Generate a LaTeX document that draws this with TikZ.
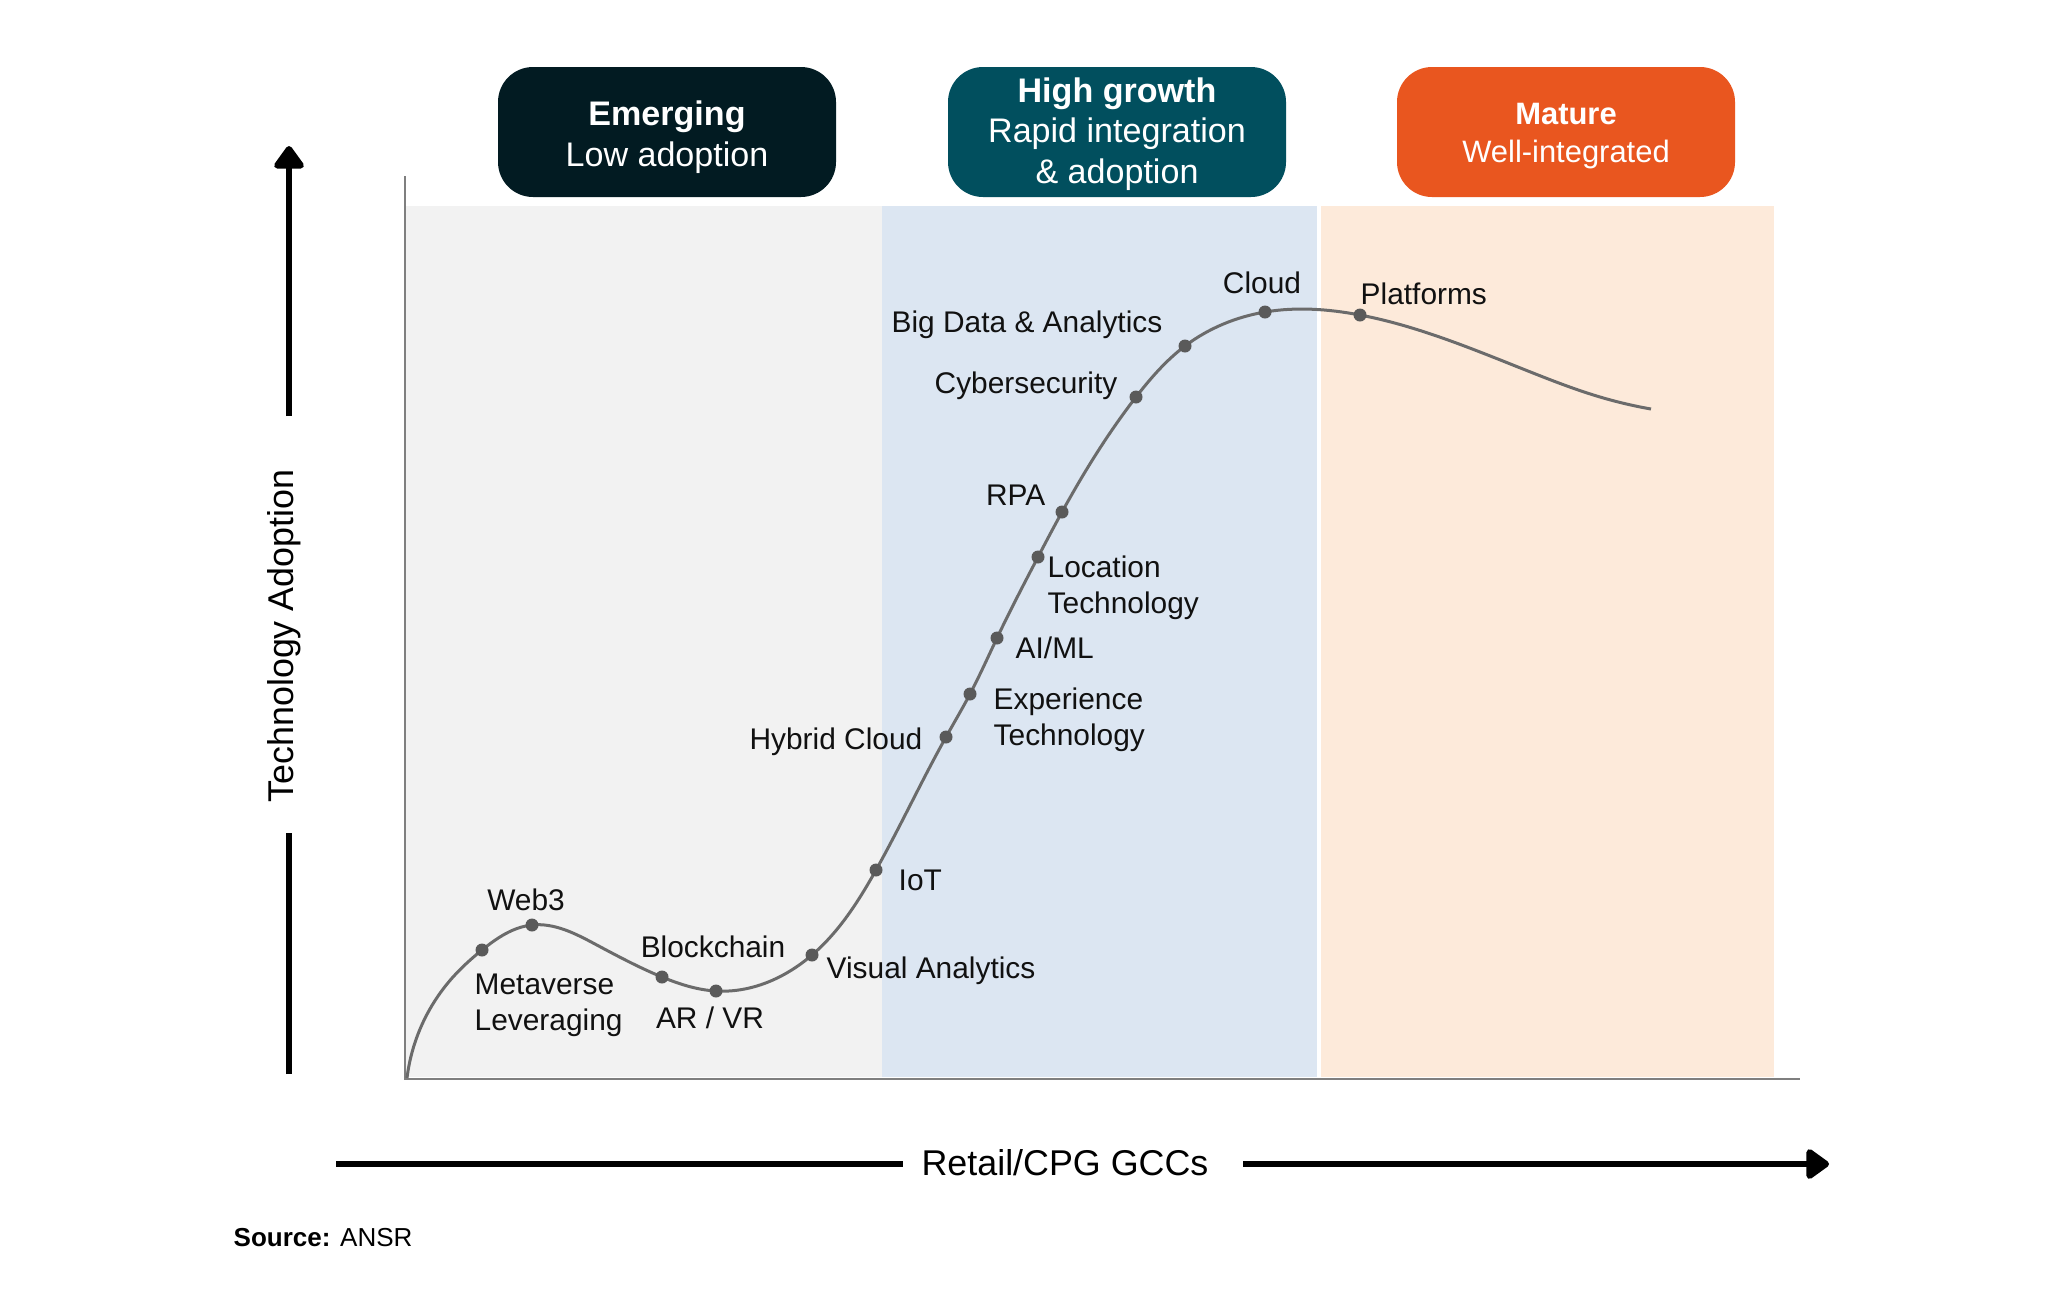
\documentclass[tikz,border=0pt]{standalone}
\usepackage{fontspec}
\setmainfont{Liberation Sans}
\usetikzlibrary{arrows.meta,hobby}
\definecolor{bggray}{HTML}{F2F2F2}
\definecolor{bgblue}{HTML}{DCE6F2}
\definecolor{bgpeach}{HTML}{FDEADA}
\definecolor{hdark}{HTML}{021B22}
\definecolor{hteal}{HTML}{014F5E}
\definecolor{horange}{HTML}{E9561F}
\definecolor{curvegray}{HTML}{6B6B6B}
\definecolor{dotgray}{HTML}{5A5A5A}
\definecolor{axisgray}{HTML}{7F7F7F}
\definecolor{txt}{HTML}{111111}
\begin{document}
\begin{tikzpicture}[x=0.1mm,y=-0.1mm,
 hbox/.style={minimum width=33.8mm, minimum height=13mm, rounded corners=3.5mm},
 header/.style={text=white, align=center, inner sep=0pt, font=\fontsize{9.7}{11.5}\selectfont},
 dot/.style={circle, fill=dotgray, inner sep=0pt, minimum size=1.3mm},
 lbl/.style={inner sep=0pt, text=txt, font=\fontsize{8.5}{10.4}\selectfont, align=left},
 axlbl/.style={inner sep=0pt, text=black, font=\fontsize{10.2}{12}\selectfont},
 bigarrow/.style={line width=0.65mm, -{Triangle[width=3.4mm,length=2.5mm,round]}},
 bigline/.style={line width=0.65mm},
 axisline/.style={draw=axisgray, line width=0.25mm},
 curveline/.style={draw=curvegray, line width=0.3mm},
]
\useasboundingbox[fill=white] (0,0) rectangle (2048,1300);

% background zones
\fill[bggray] (405,206) rectangle (882,1077);
\fill[bgblue] (882,206) rectangle (1317,1077);
\fill[bgpeach] (1321,206) rectangle (1774,1077);

% axes
\coordinate (axtop) at (405,176);
\coordinate (axorigin) at (405,1079);
\coordinate (axright) at (1800,1079);
\draw[axisline] (axtop) -- (axorigin) -- (axright);

% headers
\node[hbox, fill=hdark] (emergingbox) at (667,132) {};
\node[header] (emerging) at (667,137) {\textbf{Emerging}\\Low adoption};
\node[hbox, fill=hteal] (highgrowthbox) at (1117,132) {};
\node[header] (highgrowth) at (1117,134) {\textbf{High growth}\\Rapid integration\\\& adoption};
\node[hbox, fill=horange] (maturebox) at (1566,132) {};
\node[header, font=\fontsize{8.8}{10.6}\selectfont] (mature) at (1566,136) {\textbf{Mature}\\Well-integrated};

% curve
\coordinate (cstart) at (407,1078);
\coordinate (cend) at (1651,409);
\draw[curveline, use Hobby shortcut] (cstart) .. (453,977) .. (482,950) .. (532,925) .. (595,944)
 .. (662,977) .. (716,991) .. (812,955) .. (876,870) .. (946,737) .. (970,694) .. (997,638)
 .. (1038,557) .. (1062,512) .. (1136,397) .. (1185,346) .. (1265,312) .. (1360,315)
 .. (1467,347) .. (1533,373) .. (1600,397) .. (cend);

% dots
\node[dot] (dmeta) at (482,950) {};
\node[dot] (dweb3) at (532,925) {};
\node[dot] (dblock) at (662,977) {};
\node[dot] (darvr) at (716,991) {};
\node[dot] (dvis) at (812,955) {};
\node[dot] (diot) at (876,870) {};
\node[dot] (dhybrid) at (946,737) {};
\node[dot] (dexp) at (970,694) {};
\node[dot] (daiml) at (997,638) {};
\node[dot] (dloc) at (1038,557) {};
\node[dot] (drpa) at (1062,512) {};
\node[dot] (dcyber) at (1136,397) {};
\node[dot] (dbig) at (1185,346) {};
\node[dot] (dcloud) at (1265,312) {};
\node[dot] (dplat) at (1360,315) {};

% labels
\node[lbl, anchor=base] (lweb3) at (526,910) {Web3};
\node[lbl, anchor=north west] (lmeta) at (474,973) {Metaverse\\Leveraging};
\node[lbl, anchor=base] (lblock) at (713,957) {Blockchain};
\node[lbl, anchor=base] (larvr) at (710,1028) {AR / VR};
\node[lbl, anchor=base west] (lvis) at (826,978) {Visual Analytics};
\node[lbl, anchor=base west] (liot) at (898,890) {IoT};
\node[lbl, anchor=base east] (lhybrid) at (923,749) {Hybrid Cloud};
\node[lbl, anchor=north west] (lexp) at (993,687) {Experience\\Technology};
\node[lbl, anchor=base west] (laiml) at (1015,658) {AI/ML};
\node[lbl, anchor=north west] (lloc) at (1047,555) {Location\\Technology};
\node[lbl, anchor=base east] (lrpa) at (1046,505) {RPA};
\node[lbl, anchor=base east] (lcyber) at (1118,393) {Cybersecurity};
\node[lbl, anchor=base east] (lbig) at (1163,332) {Big Data \& Analytics};
\node[lbl, anchor=base] (lcloud) at (1262,293) {Cloud};
\node[lbl, anchor=base west] (lplat) at (1360,304) {Platforms};

% vertical axis arrow with label
\node[axlbl, rotate=90] (ylabel) at (284,636) {Technology Adoption};
\coordinate (yb) at (289,1074);
\coordinate (yb2) at (289,833);
\coordinate (yt2) at (289,416);
\coordinate (yt) at (289,146);
\draw[bigline] (yb) -- (yb2);
\draw[bigarrow] (yt2) -- (yt);

% horizontal axis arrow with label
\node[axlbl] (xlabel) at (1065,1163) {Retail/CPG GCCs};
\coordinate (xl) at (336,1164);
\coordinate (xl2) at (903,1164);
\coordinate (xr2) at (1243,1164);
\coordinate (xr) at (1829,1164);
\draw[bigline] (xl) -- (xl2);
\draw[bigarrow] (xr2) -- (xr);

% source
\node[inner sep=0pt, anchor=base west, font=\fontsize{7.4}{9}\selectfont] (source) at (233,1246) {\textbf{Source:} ANSR};
\end{tikzpicture}
\end{document}
